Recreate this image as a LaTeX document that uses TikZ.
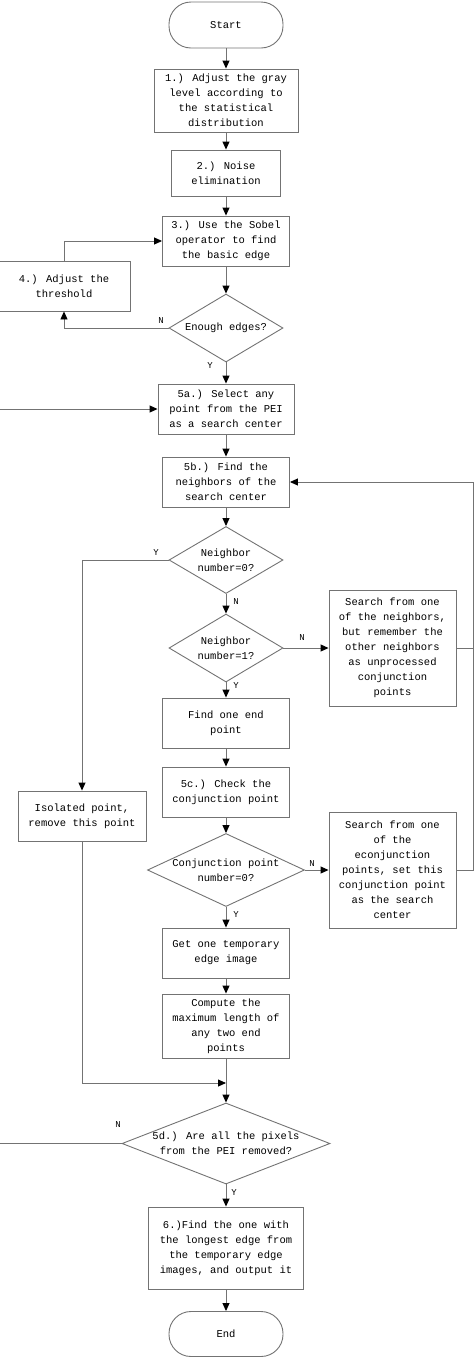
\documentclass[tikz,border=0pt]{standalone}
\usepackage{fontspec}
\setmainfont{Liberation Mono}
\usetikzlibrary{arrows.meta,shapes.geometric}
\tikzset{
  ln/.style={draw=black!55, line width=0.9pt},
  arr/.style={ln, -{Triangle[length=8pt,width=7pt,color=black]}},
  box/.style={ln, rectangle, align=center, inner sep=0pt, font=\fontsize{10.5}{15}\selectfont},
  term/.style={ln, rectangle, rounded corners=22pt, align=center, inner sep=0pt, font=\fontsize{10.5}{15}\selectfont},
  dia/.style={ln, diamond, inner sep=0pt},
  txt/.style={align=center, inner sep=0pt, font=\fontsize{10.5}{15}\selectfont},
  lab/.style={inner sep=0pt, font=\fontsize{9}{10}\selectfont}
}
\begin{document}
\begin{tikzpicture}[x=1pt,y=-1pt]
\useasboundingbox (0,0) rectangle (474,1358);
% nodes
\node[term, minimum width=114pt, minimum height=46pt] (start) at (226,25) {Start};
\node[box, minimum width=144pt, minimum height=63pt] (b1) at (226,100.5) {1.) Adjust the gray\\level according to\\the statistical\\distribution};
\node[box, minimum width=109pt, minimum height=46pt] (b2) at (226,173) {2.) Noise\\elimination};
\node[box, minimum width=127pt, minimum height=50pt] (b3) at (226,241) {3.) Use the Sobel\\operator to find\\the basic edge};
\node[box, minimum width=132pt, minimum height=50pt] (b4) at (64,286) {4.) Adjust the\\threshold};
\node[dia, minimum width=114pt, minimum height=68pt] (d1) at (226,328) {};
\node[txt] at (d1) {Enough edges?};
\node[box, minimum width=136pt, minimum height=50pt] (b5a) at (226,409) {5a.) Select any\\point from the PEI\\as a search center};
\node[box, minimum width=127pt, minimum height=50pt] (b5b) at (226,482) {5b.) Find the\\neighbors of the\\search center};
\node[dia, minimum width=114pt, minimum height=67pt] (d2) at (226,560) {};
\node[txt] at (d2) {Neighbor\\number=0?};
\node[dia, minimum width=114pt, minimum height=68pt] (d3) at (226,648) {};
\node[txt] at (d3) {Neighbor\\number=1?};
\node[box, minimum width=127pt, minimum height=116pt] (r1) at (392.5,648) {Search from one\\of the neighbors,\\but remember the\\other neighbors\\as unprocessed\\conjunction\\points};
\node[box, minimum width=127pt, minimum height=50pt] (bend) at (226,723) {Find one end\\point};
\node[box, minimum width=127pt, minimum height=50pt] (b5c) at (226,792) {5c.) Check the\\conjunction point};
\node[box, minimum width=128pt, minimum height=50pt] (iso) at (82,816) {Isolated point,\\remove this point};
\node[dia, minimum width=157pt, minimum height=73pt] (d4) at (226,870) {};
\node[txt] at (d4) {Conjunction point\\number=0?};
\node[box, minimum width=127pt, minimum height=116pt] (r2) at (392.5,870) {Search from one\\of the\\econjunction\\points, set this\\conjunction point\\as the search\\center};
\node[box, minimum width=127pt, minimum height=50pt] (bget) at (226,953) {Get one temporary\\edge image};
\node[box, minimum width=127pt, minimum height=64pt] (bcomp) at (226,1026) {Compute the\\maximum length of\\any two end\\points};
\node[dia, minimum width=208pt, minimum height=81pt] (d5) at (226,1143.5) {};
\node[txt] at (d5) {5d.) Are all the pixels\\from the PEI removed?};
\node[box, minimum width=155pt, minimum height=82pt] (b6) at (226,1248) {6.)Find the one with\\the longest edge from\\the temporary edge\\images, and output it};
\node[term, minimum width=114pt, minimum height=45pt] (end) at (226,1334) {End};
% coordinates
\coordinate (lin) at (0,409);
\coordinate (rtop) at (473,482);
\coordinate (join) at (226,1083);
\coordinate (lout) at (0,1143.5);
% connectors
\draw[arr] (start) -- (b1);
\draw[arr] (b1) -- (b2);
\draw[arr] (b2) -- (b3);
\draw[arr] (b3) -- (d1);
\draw[arr] (d1.west) -| (b4.south);
\node[lab] at (161,321) {N};
\draw[arr] (b4.north) |- (b3.west);
\draw[arr] (d1.south) -- (b5a.north);
\node[lab] at (210,366) {Y};
\draw[arr] (lin) -- (b5a.west);
\draw[arr] (b5a) -- (b5b);
\draw[arr] (b5b) -- (d2.north);
\draw[arr] (d2.west) -| (iso.north);
\node[lab] at (156,553) {Y};
\draw[arr] (d2.south) -- (d3.north);
\node[lab] at (236,602) {N};
\draw[arr] (d3.east) -- (r1.west);
\node[lab] at (302,638) {N};
\draw[ln] (r1.east) -- (r1.east -| rtop);
\draw[arr] (r2.east) -| (rtop) -- (b5b.east);
\draw[arr] (d3.south) -- (bend.north);
\node[lab] at (236,686) {Y};
\draw[arr] (bend) -- (b5c);
\draw[arr] (b5c) -- (d4.north);
\draw[arr] (d4.east) -- (r2.west);
\node[lab] at (312,864) {N};
\draw[arr] (d4.south) -- (bget.north);
\node[lab] at (236,915) {Y};
\draw[arr] (bget) -- (bcomp);
\draw[arr] (bcomp.south) -- (d5.north);
\draw[arr] (iso.south) |- (join);
\draw[ln] (d5.west) -- (lout);
\node[lab] at (118,1125) {N};
\draw[arr] (d5.south) -- (b6.north);
\node[lab] at (234,1193) {Y};
\draw[arr] (b6) -- (end);
\end{tikzpicture}
\end{document}
